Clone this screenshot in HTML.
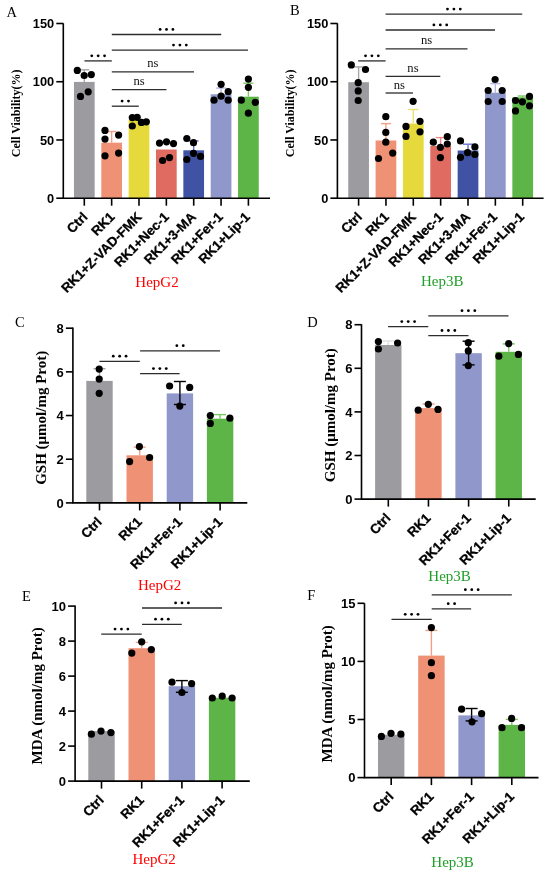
<!DOCTYPE html>
<html><head><meta charset="utf-8"><style>
html,body{margin:0;padding:0;background:#fff;}
svg{display:block;will-change:transform;}
</style></head><body>
<svg width="550" height="878" viewBox="0 0 550 878">
<rect width="550" height="878" fill="#fff"/>
<rect x="73.95" y="81.90" width="20.70" height="116.30" fill="#9c9ba0"/>
<rect x="101.30" y="142.70" width="20.70" height="55.50" fill="#ef9174"/>
<rect x="128.65" y="119.50" width="20.70" height="78.70" fill="#e6d93c"/>
<rect x="156.00" y="149.50" width="20.70" height="48.70" fill="#e06b60"/>
<rect x="183.35" y="150.30" width="20.70" height="47.90" fill="#3f52a4"/>
<rect x="210.70" y="94.30" width="20.70" height="103.90" fill="#8f97cb"/>
<rect x="238.05" y="96.70" width="20.70" height="101.50" fill="#5db447"/>
<line x1="84.30" y1="69.80" x2="84.30" y2="81.90" stroke="#a6a6aa" stroke-width="1.4"/>
<line x1="79.30" y1="69.80" x2="89.30" y2="69.80" stroke="#a6a6aa" stroke-width="1.4"/>
<line x1="111.65" y1="131.50" x2="111.65" y2="142.70" stroke="#f4a085" stroke-width="1.4"/>
<line x1="106.65" y1="131.50" x2="116.65" y2="131.50" stroke="#f4a085" stroke-width="1.4"/>
<line x1="193.70" y1="140.90" x2="193.70" y2="150.30" stroke="#6a74d0" stroke-width="1.4"/>
<line x1="188.70" y1="140.90" x2="198.70" y2="140.90" stroke="#6a74d0" stroke-width="1.4"/>
<line x1="221.05" y1="88.10" x2="221.05" y2="94.30" stroke="#b4b9e6" stroke-width="1.4"/>
<line x1="216.05" y1="88.10" x2="226.05" y2="88.10" stroke="#b4b9e6" stroke-width="1.4"/>
<line x1="248.40" y1="83.20" x2="248.40" y2="96.70" stroke="#78c860" stroke-width="1.4"/>
<line x1="243.40" y1="83.20" x2="253.40" y2="83.20" stroke="#78c860" stroke-width="1.4"/>
<circle cx="77.30" cy="70.40" r="3.6" fill="#000"/>
<circle cx="84.20" cy="75.50" r="3.6" fill="#000"/>
<circle cx="91.30" cy="74.60" r="3.6" fill="#000"/>
<circle cx="88.20" cy="91.80" r="3.6" fill="#000"/>
<circle cx="80.50" cy="96.40" r="3.6" fill="#000"/>
<circle cx="105.00" cy="130.40" r="3.6" fill="#000"/>
<circle cx="105.00" cy="139.10" r="3.6" fill="#000"/>
<circle cx="118.60" cy="135.10" r="3.6" fill="#000"/>
<circle cx="118.60" cy="153.10" r="3.6" fill="#000"/>
<circle cx="105.00" cy="155.80" r="3.6" fill="#000"/>
<circle cx="132.30" cy="117.60" r="3.6" fill="#000"/>
<circle cx="137.20" cy="117.30" r="3.6" fill="#000"/>
<circle cx="141.40" cy="122.40" r="3.6" fill="#000"/>
<circle cx="146.30" cy="121.80" r="3.6" fill="#000"/>
<circle cx="132.30" cy="126.00" r="3.6" fill="#000"/>
<circle cx="159.50" cy="143.10" r="3.6" fill="#000"/>
<circle cx="166.50" cy="141.80" r="3.6" fill="#000"/>
<circle cx="173.50" cy="143.60" r="3.6" fill="#000"/>
<circle cx="169.50" cy="157.60" r="3.6" fill="#000"/>
<circle cx="162.60" cy="160.50" r="3.6" fill="#000"/>
<circle cx="186.80" cy="138.50" r="3.6" fill="#000"/>
<circle cx="193.50" cy="142.70" r="3.6" fill="#000"/>
<circle cx="193.50" cy="153.30" r="3.6" fill="#000"/>
<circle cx="200.50" cy="156.40" r="3.6" fill="#000"/>
<circle cx="186.80" cy="159.50" r="3.6" fill="#000"/>
<circle cx="221.10" cy="84.30" r="3.6" fill="#000"/>
<circle cx="228.20" cy="91.70" r="3.6" fill="#000"/>
<circle cx="221.10" cy="96.20" r="3.6" fill="#000"/>
<circle cx="214.00" cy="100.20" r="3.6" fill="#000"/>
<circle cx="228.20" cy="100.20" r="3.6" fill="#000"/>
<circle cx="248.40" cy="79.10" r="3.6" fill="#000"/>
<circle cx="248.40" cy="87.30" r="3.6" fill="#000"/>
<circle cx="241.30" cy="100.20" r="3.6" fill="#000"/>
<circle cx="255.30" cy="102.30" r="3.6" fill="#000"/>
<circle cx="248.40" cy="113.20" r="3.6" fill="#000"/>
<path d="M63.30,23.20 V198.20 H270.00" fill="none" stroke="#000" stroke-width="1.6"/>
<line x1="56.30" y1="198.20" x2="63.30" y2="198.20" stroke="#000" stroke-width="1.6"/>
<text x="54.20" y="202.81" text-anchor="end" font-size="12.8" font-weight="bold" font-family="'Liberation Sans', sans-serif">0</text>
<line x1="56.30" y1="139.96" x2="63.30" y2="139.96" stroke="#000" stroke-width="1.6"/>
<text x="54.20" y="144.57" text-anchor="end" font-size="12.8" font-weight="bold" font-family="'Liberation Sans', sans-serif">50</text>
<line x1="56.30" y1="81.73" x2="63.30" y2="81.73" stroke="#000" stroke-width="1.6"/>
<text x="54.20" y="86.34" text-anchor="end" font-size="12.8" font-weight="bold" font-family="'Liberation Sans', sans-serif">100</text>
<line x1="56.30" y1="23.49" x2="63.30" y2="23.49" stroke="#000" stroke-width="1.6"/>
<text x="54.20" y="28.10" text-anchor="end" font-size="12.8" font-weight="bold" font-family="'Liberation Sans', sans-serif">150</text>
<line x1="84.30" y1="198.20" x2="84.30" y2="205.70" stroke="#000" stroke-width="1.6"/>
<text transform="translate(85.10,214.40) rotate(-45)" x="0" y="4.79" text-anchor="end" font-size="13.3" font-weight="bold" stroke="#000" stroke-width="0.3" font-family="'Liberation Sans', sans-serif">Ctrl</text>
<line x1="111.65" y1="198.20" x2="111.65" y2="205.70" stroke="#000" stroke-width="1.6"/>
<text transform="translate(112.15,214.40) rotate(-45)" x="0" y="4.79" text-anchor="end" font-size="13.3" font-weight="bold" stroke="#000" stroke-width="0.3" font-family="'Liberation Sans', sans-serif">RK1</text>
<line x1="139.00" y1="198.20" x2="139.00" y2="205.70" stroke="#000" stroke-width="1.6"/>
<text transform="translate(139.20,214.40) rotate(-45)" x="0" y="4.79" text-anchor="end" font-size="13.3" font-weight="bold" stroke="#000" stroke-width="0.3" font-family="'Liberation Sans', sans-serif">RK1+Z-VAD-FMK</text>
<line x1="166.35" y1="198.20" x2="166.35" y2="205.70" stroke="#000" stroke-width="1.6"/>
<text transform="translate(166.25,214.40) rotate(-45)" x="0" y="4.79" text-anchor="end" font-size="13.3" font-weight="bold" stroke="#000" stroke-width="0.3" font-family="'Liberation Sans', sans-serif">RK1+Nec-1</text>
<line x1="193.70" y1="198.20" x2="193.70" y2="205.70" stroke="#000" stroke-width="1.6"/>
<text transform="translate(193.30,214.40) rotate(-45)" x="0" y="4.79" text-anchor="end" font-size="13.3" font-weight="bold" stroke="#000" stroke-width="0.3" font-family="'Liberation Sans', sans-serif">RK1+3-MA</text>
<line x1="221.05" y1="198.20" x2="221.05" y2="205.70" stroke="#000" stroke-width="1.6"/>
<text transform="translate(220.35,214.40) rotate(-45)" x="0" y="4.79" text-anchor="end" font-size="13.3" font-weight="bold" stroke="#000" stroke-width="0.3" font-family="'Liberation Sans', sans-serif">RK1+Fer-1</text>
<line x1="248.40" y1="198.20" x2="248.40" y2="205.70" stroke="#000" stroke-width="1.6"/>
<text transform="translate(247.40,214.40) rotate(-45)" x="0" y="4.79" text-anchor="end" font-size="13.3" font-weight="bold" stroke="#000" stroke-width="0.3" font-family="'Liberation Sans', sans-serif">RK1+Lip-1</text>
<text transform="translate(19.80,113.30) rotate(-90)" text-anchor="middle" font-size="12" font-weight="bold" font-family="'Liberation Serif', serif">Cell Viability(%)</text>
<line x1="84.50" y1="60.90" x2="111.80" y2="60.90" stroke="#2c2c2c" stroke-width="1.3"/>
<circle cx="91.75" cy="55.80" r="1.4" fill="#000"/>
<circle cx="98.15" cy="55.80" r="1.4" fill="#000"/>
<circle cx="104.55" cy="55.80" r="1.4" fill="#000"/>
<line x1="111.80" y1="34.50" x2="221.20" y2="34.50" stroke="#2c2c2c" stroke-width="1.3"/>
<circle cx="160.10" cy="29.40" r="1.4" fill="#000"/>
<circle cx="166.50" cy="29.40" r="1.4" fill="#000"/>
<circle cx="172.90" cy="29.40" r="1.4" fill="#000"/>
<line x1="111.80" y1="50.20" x2="248.00" y2="50.20" stroke="#2c2c2c" stroke-width="1.3"/>
<circle cx="173.50" cy="45.10" r="1.4" fill="#000"/>
<circle cx="179.90" cy="45.10" r="1.4" fill="#000"/>
<circle cx="186.30" cy="45.10" r="1.4" fill="#000"/>
<line x1="111.80" y1="71.80" x2="194.00" y2="71.80" stroke="#2c2c2c" stroke-width="1.3"/>
<text x="152.90" y="67.30" text-anchor="middle" font-size="12.6" font-family="'Liberation Serif', serif" fill="#111">ns</text>
<line x1="111.80" y1="89.60" x2="166.40" y2="89.60" stroke="#2c2c2c" stroke-width="1.3"/>
<text x="139.10" y="85.10" text-anchor="middle" font-size="12.6" font-family="'Liberation Serif', serif" fill="#111">ns</text>
<line x1="111.80" y1="106.20" x2="138.80" y2="106.20" stroke="#2c2c2c" stroke-width="1.3"/>
<circle cx="122.10" cy="101.10" r="1.4" fill="#000"/>
<circle cx="128.50" cy="101.10" r="1.4" fill="#000"/>
<text x="6.60" y="17.00" font-size="14.5" font-family="'Liberation Serif', serif">A</text>
<text x="157.00" y="286.60" text-anchor="middle" font-size="15" font-family="'Liberation Serif', serif" fill="#ff0000">HepG2</text>
<rect x="348.25" y="82.20" width="20.70" height="116.00" fill="#9c9ba0"/>
<rect x="375.60" y="140.50" width="20.70" height="57.70" fill="#ef9174"/>
<rect x="402.95" y="123.60" width="20.70" height="74.60" fill="#e6d93c"/>
<rect x="430.30" y="146.00" width="20.70" height="52.20" fill="#e06b60"/>
<rect x="457.65" y="150.50" width="20.70" height="47.70" fill="#3f52a4"/>
<rect x="485.00" y="92.70" width="20.70" height="105.50" fill="#8f97cb"/>
<rect x="512.35" y="97.30" width="20.70" height="100.90" fill="#5db447"/>
<line x1="358.60" y1="66.90" x2="358.60" y2="82.20" stroke="#a6a6aa" stroke-width="1.4"/>
<line x1="353.60" y1="66.90" x2="363.60" y2="66.90" stroke="#a6a6aa" stroke-width="1.4"/>
<line x1="385.95" y1="123.60" x2="385.95" y2="140.50" stroke="#f4a085" stroke-width="1.4"/>
<line x1="380.95" y1="123.60" x2="390.95" y2="123.60" stroke="#f4a085" stroke-width="1.4"/>
<line x1="413.30" y1="109.50" x2="413.30" y2="123.60" stroke="#ece070" stroke-width="1.4"/>
<line x1="408.30" y1="109.50" x2="418.30" y2="109.50" stroke="#ece070" stroke-width="1.4"/>
<line x1="440.65" y1="137.60" x2="440.65" y2="146.00" stroke="#ea8a80" stroke-width="1.4"/>
<line x1="435.65" y1="137.60" x2="445.65" y2="137.60" stroke="#ea8a80" stroke-width="1.4"/>
<line x1="468.00" y1="144.20" x2="468.00" y2="150.50" stroke="#6a74d0" stroke-width="1.4"/>
<line x1="463.00" y1="144.20" x2="473.00" y2="144.20" stroke="#6a74d0" stroke-width="1.4"/>
<line x1="495.35" y1="83.60" x2="495.35" y2="92.70" stroke="#b4b9e6" stroke-width="1.4"/>
<line x1="490.35" y1="83.60" x2="500.35" y2="83.60" stroke="#b4b9e6" stroke-width="1.4"/>
<line x1="522.70" y1="96.00" x2="522.70" y2="97.30" stroke="#78c860" stroke-width="1.4"/>
<line x1="517.70" y1="96.00" x2="527.70" y2="96.00" stroke="#78c860" stroke-width="1.4"/>
<circle cx="351.30" cy="64.90" r="3.6" fill="#000"/>
<circle cx="365.50" cy="69.50" r="3.6" fill="#000"/>
<circle cx="358.20" cy="82.70" r="3.6" fill="#000"/>
<circle cx="358.20" cy="90.90" r="3.6" fill="#000"/>
<circle cx="358.20" cy="100.50" r="3.6" fill="#000"/>
<circle cx="385.80" cy="116.70" r="3.6" fill="#000"/>
<circle cx="385.80" cy="132.40" r="3.6" fill="#000"/>
<circle cx="385.80" cy="142.20" r="3.6" fill="#000"/>
<circle cx="392.70" cy="153.10" r="3.6" fill="#000"/>
<circle cx="378.50" cy="158.50" r="3.6" fill="#000"/>
<circle cx="413.10" cy="101.30" r="3.6" fill="#000"/>
<circle cx="420.00" cy="121.30" r="3.6" fill="#000"/>
<circle cx="406.00" cy="126.40" r="3.6" fill="#000"/>
<circle cx="420.00" cy="131.80" r="3.6" fill="#000"/>
<circle cx="406.00" cy="136.40" r="3.6" fill="#000"/>
<circle cx="433.30" cy="142.20" r="3.6" fill="#000"/>
<circle cx="447.30" cy="136.70" r="3.6" fill="#000"/>
<circle cx="447.30" cy="144.00" r="3.6" fill="#000"/>
<circle cx="440.40" cy="147.30" r="3.6" fill="#000"/>
<circle cx="440.40" cy="157.60" r="3.6" fill="#000"/>
<circle cx="460.50" cy="140.90" r="3.6" fill="#000"/>
<circle cx="474.90" cy="146.90" r="3.6" fill="#000"/>
<circle cx="467.60" cy="152.70" r="3.6" fill="#000"/>
<circle cx="474.90" cy="154.50" r="3.6" fill="#000"/>
<circle cx="460.50" cy="157.30" r="3.6" fill="#000"/>
<circle cx="495.10" cy="79.50" r="3.6" fill="#000"/>
<circle cx="488.20" cy="90.50" r="3.6" fill="#000"/>
<circle cx="502.20" cy="90.50" r="3.6" fill="#000"/>
<circle cx="488.20" cy="101.50" r="3.6" fill="#000"/>
<circle cx="502.20" cy="101.50" r="3.6" fill="#000"/>
<circle cx="515.50" cy="100.50" r="3.6" fill="#000"/>
<circle cx="522.40" cy="101.80" r="3.6" fill="#000"/>
<circle cx="529.50" cy="96.40" r="3.6" fill="#000"/>
<circle cx="529.50" cy="105.80" r="3.6" fill="#000"/>
<circle cx="515.50" cy="110.90" r="3.6" fill="#000"/>
<path d="M337.40,23.20 V198.20 H543.60" fill="none" stroke="#000" stroke-width="1.6"/>
<line x1="330.40" y1="198.20" x2="337.40" y2="198.20" stroke="#000" stroke-width="1.6"/>
<text x="328.30" y="202.81" text-anchor="end" font-size="12.8" font-weight="bold" font-family="'Liberation Sans', sans-serif">0</text>
<line x1="330.40" y1="139.96" x2="337.40" y2="139.96" stroke="#000" stroke-width="1.6"/>
<text x="328.30" y="144.57" text-anchor="end" font-size="12.8" font-weight="bold" font-family="'Liberation Sans', sans-serif">50</text>
<line x1="330.40" y1="81.73" x2="337.40" y2="81.73" stroke="#000" stroke-width="1.6"/>
<text x="328.30" y="86.34" text-anchor="end" font-size="12.8" font-weight="bold" font-family="'Liberation Sans', sans-serif">100</text>
<line x1="330.40" y1="23.49" x2="337.40" y2="23.49" stroke="#000" stroke-width="1.6"/>
<text x="328.30" y="28.10" text-anchor="end" font-size="12.8" font-weight="bold" font-family="'Liberation Sans', sans-serif">150</text>
<line x1="358.60" y1="198.20" x2="358.60" y2="205.70" stroke="#000" stroke-width="1.6"/>
<text transform="translate(359.40,214.40) rotate(-45)" x="0" y="4.79" text-anchor="end" font-size="13.3" font-weight="bold" stroke="#000" stroke-width="0.3" font-family="'Liberation Sans', sans-serif">Ctrl</text>
<line x1="385.95" y1="198.20" x2="385.95" y2="205.70" stroke="#000" stroke-width="1.6"/>
<text transform="translate(386.45,214.40) rotate(-45)" x="0" y="4.79" text-anchor="end" font-size="13.3" font-weight="bold" stroke="#000" stroke-width="0.3" font-family="'Liberation Sans', sans-serif">RK1</text>
<line x1="413.30" y1="198.20" x2="413.30" y2="205.70" stroke="#000" stroke-width="1.6"/>
<text transform="translate(413.50,214.40) rotate(-45)" x="0" y="4.79" text-anchor="end" font-size="13.3" font-weight="bold" stroke="#000" stroke-width="0.3" font-family="'Liberation Sans', sans-serif">RK1+Z-VAD-FMK</text>
<line x1="440.65" y1="198.20" x2="440.65" y2="205.70" stroke="#000" stroke-width="1.6"/>
<text transform="translate(440.55,214.40) rotate(-45)" x="0" y="4.79" text-anchor="end" font-size="13.3" font-weight="bold" stroke="#000" stroke-width="0.3" font-family="'Liberation Sans', sans-serif">RK1+Nec-1</text>
<line x1="468.00" y1="198.20" x2="468.00" y2="205.70" stroke="#000" stroke-width="1.6"/>
<text transform="translate(467.60,214.40) rotate(-45)" x="0" y="4.79" text-anchor="end" font-size="13.3" font-weight="bold" stroke="#000" stroke-width="0.3" font-family="'Liberation Sans', sans-serif">RK1+3-MA</text>
<line x1="495.35" y1="198.20" x2="495.35" y2="205.70" stroke="#000" stroke-width="1.6"/>
<text transform="translate(494.65,214.40) rotate(-45)" x="0" y="4.79" text-anchor="end" font-size="13.3" font-weight="bold" stroke="#000" stroke-width="0.3" font-family="'Liberation Sans', sans-serif">RK1+Fer-1</text>
<line x1="522.70" y1="198.20" x2="522.70" y2="205.70" stroke="#000" stroke-width="1.6"/>
<text transform="translate(521.70,214.40) rotate(-45)" x="0" y="4.79" text-anchor="end" font-size="13.3" font-weight="bold" stroke="#000" stroke-width="0.3" font-family="'Liberation Sans', sans-serif">RK1+Lip-1</text>
<text transform="translate(294.10,113.30) rotate(-90)" text-anchor="middle" font-size="12" font-weight="bold" font-family="'Liberation Serif', serif">Cell Viability(%)</text>
<line x1="358.20" y1="60.90" x2="385.60" y2="60.90" stroke="#2c2c2c" stroke-width="1.3"/>
<circle cx="365.50" cy="55.80" r="1.4" fill="#000"/>
<circle cx="371.90" cy="55.80" r="1.4" fill="#000"/>
<circle cx="378.30" cy="55.80" r="1.4" fill="#000"/>
<line x1="385.60" y1="14.20" x2="522.20" y2="14.20" stroke="#2c2c2c" stroke-width="1.3"/>
<circle cx="447.50" cy="9.10" r="1.4" fill="#000"/>
<circle cx="453.90" cy="9.10" r="1.4" fill="#000"/>
<circle cx="460.30" cy="9.10" r="1.4" fill="#000"/>
<line x1="385.60" y1="30.00" x2="495.00" y2="30.00" stroke="#2c2c2c" stroke-width="1.3"/>
<circle cx="433.90" cy="24.90" r="1.4" fill="#000"/>
<circle cx="440.30" cy="24.90" r="1.4" fill="#000"/>
<circle cx="446.70" cy="24.90" r="1.4" fill="#000"/>
<line x1="385.60" y1="48.90" x2="467.50" y2="48.90" stroke="#2c2c2c" stroke-width="1.3"/>
<text x="426.55" y="44.40" text-anchor="middle" font-size="12.6" font-family="'Liberation Serif', serif" fill="#111">ns</text>
<line x1="385.60" y1="76.30" x2="440.30" y2="76.30" stroke="#2c2c2c" stroke-width="1.3"/>
<text x="412.95" y="71.80" text-anchor="middle" font-size="12.6" font-family="'Liberation Serif', serif" fill="#111">ns</text>
<line x1="385.60" y1="93.00" x2="413.00" y2="93.00" stroke="#2c2c2c" stroke-width="1.3"/>
<text x="399.30" y="88.50" text-anchor="middle" font-size="12.6" font-family="'Liberation Serif', serif" fill="#111">ns</text>
<text x="290.10" y="15.20" font-size="14.5" font-family="'Liberation Serif', serif">B</text>
<text x="442.20" y="286.20" text-anchor="middle" font-size="15" font-family="'Liberation Serif', serif" fill="#1f9e28">Hep3B</text>
<rect x="86.30" y="380.90" width="26.40" height="122.00" fill="#9c9ba0"/>
<rect x="126.50" y="455.30" width="26.40" height="47.60" fill="#ef9174"/>
<rect x="166.70" y="393.40" width="26.40" height="109.50" fill="#8f97cb"/>
<rect x="206.90" y="418.70" width="26.40" height="84.20" fill="#5db447"/>
<line x1="99.50" y1="368.70" x2="99.50" y2="380.90" stroke="#a6a6aa" stroke-width="1.4"/>
<line x1="93.50" y1="368.70" x2="105.50" y2="368.70" stroke="#a6a6aa" stroke-width="1.4"/>
<line x1="139.70" y1="447.20" x2="139.70" y2="455.30" stroke="#f4a085" stroke-width="1.4"/>
<line x1="133.70" y1="447.20" x2="145.70" y2="447.20" stroke="#f4a085" stroke-width="1.4"/>
<line x1="179.90" y1="381.50" x2="179.90" y2="393.40" stroke="#000" stroke-width="1.4"/>
<line x1="173.90" y1="381.50" x2="185.90" y2="381.50" stroke="#000" stroke-width="1.4"/>
<line x1="179.90" y1="393.40" x2="179.90" y2="404.50" stroke="#000" stroke-width="1.4"/>
<line x1="173.90" y1="404.50" x2="185.90" y2="404.50" stroke="#000" stroke-width="1.4"/>
<line x1="220.10" y1="414.60" x2="220.10" y2="418.70" stroke="#78c860" stroke-width="1.4"/>
<line x1="214.10" y1="414.60" x2="226.10" y2="414.60" stroke="#78c860" stroke-width="1.4"/>
<circle cx="99.20" cy="369.10" r="3.6" fill="#000"/>
<circle cx="99.20" cy="379.10" r="3.6" fill="#000"/>
<circle cx="99.20" cy="393.30" r="3.6" fill="#000"/>
<circle cx="139.40" cy="446.60" r="3.6" fill="#000"/>
<circle cx="129.60" cy="461.60" r="3.6" fill="#000"/>
<circle cx="149.60" cy="457.50" r="3.6" fill="#000"/>
<circle cx="169.60" cy="386.00" r="3.6" fill="#000"/>
<circle cx="189.70" cy="387.40" r="3.6" fill="#000"/>
<circle cx="179.80" cy="406.10" r="3.6" fill="#000"/>
<circle cx="210.30" cy="415.60" r="3.6" fill="#000"/>
<circle cx="210.30" cy="423.40" r="3.6" fill="#000"/>
<circle cx="229.90" cy="418.20" r="3.6" fill="#000"/>
<path d="M72.90,327.60 V502.90 H247.30" fill="none" stroke="#000" stroke-width="1.6"/>
<line x1="65.90" y1="502.90" x2="72.90" y2="502.90" stroke="#000" stroke-width="1.6"/>
<text x="63.80" y="507.58" text-anchor="end" font-size="13" font-weight="bold" font-family="'Liberation Sans', sans-serif">0</text>
<line x1="65.90" y1="459.22" x2="72.90" y2="459.22" stroke="#000" stroke-width="1.6"/>
<text x="63.80" y="463.90" text-anchor="end" font-size="13" font-weight="bold" font-family="'Liberation Sans', sans-serif">2</text>
<line x1="65.90" y1="415.54" x2="72.90" y2="415.54" stroke="#000" stroke-width="1.6"/>
<text x="63.80" y="420.22" text-anchor="end" font-size="13" font-weight="bold" font-family="'Liberation Sans', sans-serif">4</text>
<line x1="65.90" y1="371.86" x2="72.90" y2="371.86" stroke="#000" stroke-width="1.6"/>
<text x="63.80" y="376.54" text-anchor="end" font-size="13" font-weight="bold" font-family="'Liberation Sans', sans-serif">6</text>
<line x1="65.90" y1="328.18" x2="72.90" y2="328.18" stroke="#000" stroke-width="1.6"/>
<text x="63.80" y="332.86" text-anchor="end" font-size="13" font-weight="bold" font-family="'Liberation Sans', sans-serif">8</text>
<line x1="99.50" y1="502.90" x2="99.50" y2="510.40" stroke="#000" stroke-width="1.6"/>
<text transform="translate(99.20,519.40) rotate(-45)" x="0" y="4.79" text-anchor="end" font-size="13.3" font-weight="bold" stroke="#000" stroke-width="0.3" font-family="'Liberation Sans', sans-serif">Ctrl</text>
<line x1="139.70" y1="502.90" x2="139.70" y2="510.40" stroke="#000" stroke-width="1.6"/>
<text transform="translate(139.40,519.40) rotate(-45)" x="0" y="4.79" text-anchor="end" font-size="13.3" font-weight="bold" stroke="#000" stroke-width="0.3" font-family="'Liberation Sans', sans-serif">RK1</text>
<line x1="179.90" y1="502.90" x2="179.90" y2="510.40" stroke="#000" stroke-width="1.6"/>
<text transform="translate(179.60,519.40) rotate(-45)" x="0" y="4.79" text-anchor="end" font-size="13.3" font-weight="bold" stroke="#000" stroke-width="0.3" font-family="'Liberation Sans', sans-serif">RK1+Fer-1</text>
<line x1="220.10" y1="502.90" x2="220.10" y2="510.40" stroke="#000" stroke-width="1.6"/>
<text transform="translate(219.80,519.40) rotate(-45)" x="0" y="4.79" text-anchor="end" font-size="13.3" font-weight="bold" stroke="#000" stroke-width="0.3" font-family="'Liberation Sans', sans-serif">RK1+Lip-1</text>
<text transform="translate(46.10,417.80) rotate(-90)" text-anchor="middle" font-size="15" font-weight="bold" font-family="'Liberation Serif', serif">GSH (μmol/mg Prot)</text>
<line x1="99.50" y1="361.30" x2="139.80" y2="361.30" stroke="#2c2c2c" stroke-width="1.3"/>
<circle cx="113.25" cy="356.20" r="1.4" fill="#000"/>
<circle cx="119.65" cy="356.20" r="1.4" fill="#000"/>
<circle cx="126.05" cy="356.20" r="1.4" fill="#000"/>
<line x1="140.10" y1="350.80" x2="220.00" y2="350.80" stroke="#2c2c2c" stroke-width="1.3"/>
<circle cx="176.85" cy="345.70" r="1.4" fill="#000"/>
<circle cx="183.25" cy="345.70" r="1.4" fill="#000"/>
<line x1="140.10" y1="373.70" x2="179.60" y2="373.70" stroke="#2c2c2c" stroke-width="1.3"/>
<circle cx="153.45" cy="368.60" r="1.4" fill="#000"/>
<circle cx="159.85" cy="368.60" r="1.4" fill="#000"/>
<circle cx="166.25" cy="368.60" r="1.4" fill="#000"/>
<text x="14.90" y="327.00" font-size="14.5" font-family="'Liberation Serif', serif">C</text>
<text x="159.60" y="590.30" text-anchor="middle" font-size="15" font-family="'Liberation Serif', serif" fill="#ff0000">HepG2</text>
<rect x="375.10" y="345.00" width="26.40" height="154.10" fill="#9c9ba0"/>
<rect x="415.25" y="408.10" width="26.40" height="91.00" fill="#ef9174"/>
<rect x="455.40" y="353.20" width="26.40" height="145.90" fill="#8f97cb"/>
<rect x="495.55" y="351.80" width="26.40" height="147.30" fill="#5db447"/>
<line x1="388.30" y1="341.00" x2="388.30" y2="345.00" stroke="#e0e0e0" stroke-width="1.4"/>
<line x1="382.30" y1="341.00" x2="394.30" y2="341.00" stroke="#e0e0e0" stroke-width="1.4"/>
<line x1="428.45" y1="404.00" x2="428.45" y2="408.10" stroke="#f4a085" stroke-width="1.4"/>
<line x1="422.45" y1="404.00" x2="434.45" y2="404.00" stroke="#f4a085" stroke-width="1.4"/>
<line x1="468.60" y1="341.20" x2="468.60" y2="353.20" stroke="#000" stroke-width="1.4"/>
<line x1="462.60" y1="341.20" x2="474.60" y2="341.20" stroke="#000" stroke-width="1.4"/>
<line x1="468.60" y1="353.20" x2="468.60" y2="364.90" stroke="#000" stroke-width="1.4"/>
<line x1="462.60" y1="364.90" x2="474.60" y2="364.90" stroke="#000" stroke-width="1.4"/>
<line x1="508.75" y1="343.90" x2="508.75" y2="351.80" stroke="#78c860" stroke-width="1.4"/>
<line x1="502.75" y1="343.90" x2="514.75" y2="343.90" stroke="#78c860" stroke-width="1.4"/>
<circle cx="378.40" cy="341.60" r="3.6" fill="#000"/>
<circle cx="378.40" cy="349.00" r="3.6" fill="#000"/>
<circle cx="397.60" cy="343.00" r="3.6" fill="#000"/>
<circle cx="418.20" cy="410.20" r="3.6" fill="#000"/>
<circle cx="428.30" cy="404.30" r="3.6" fill="#000"/>
<circle cx="438.00" cy="409.40" r="3.6" fill="#000"/>
<circle cx="468.30" cy="342.70" r="3.6" fill="#000"/>
<circle cx="468.30" cy="350.90" r="3.6" fill="#000"/>
<circle cx="468.30" cy="365.60" r="3.6" fill="#000"/>
<circle cx="508.70" cy="343.60" r="3.6" fill="#000"/>
<circle cx="498.80" cy="356.20" r="3.6" fill="#000"/>
<circle cx="518.40" cy="354.40" r="3.6" fill="#000"/>
<path d="M361.50,324.20 V499.10 H535.70" fill="none" stroke="#000" stroke-width="1.6"/>
<line x1="354.50" y1="499.10" x2="361.50" y2="499.10" stroke="#000" stroke-width="1.6"/>
<text x="352.40" y="503.78" text-anchor="end" font-size="13" font-weight="bold" font-family="'Liberation Sans', sans-serif">0</text>
<line x1="354.50" y1="455.50" x2="361.50" y2="455.50" stroke="#000" stroke-width="1.6"/>
<text x="352.40" y="460.18" text-anchor="end" font-size="13" font-weight="bold" font-family="'Liberation Sans', sans-serif">2</text>
<line x1="354.50" y1="411.90" x2="361.50" y2="411.90" stroke="#000" stroke-width="1.6"/>
<text x="352.40" y="416.58" text-anchor="end" font-size="13" font-weight="bold" font-family="'Liberation Sans', sans-serif">4</text>
<line x1="354.50" y1="368.30" x2="361.50" y2="368.30" stroke="#000" stroke-width="1.6"/>
<text x="352.40" y="372.98" text-anchor="end" font-size="13" font-weight="bold" font-family="'Liberation Sans', sans-serif">6</text>
<line x1="354.50" y1="324.70" x2="361.50" y2="324.70" stroke="#000" stroke-width="1.6"/>
<text x="352.40" y="329.38" text-anchor="end" font-size="13" font-weight="bold" font-family="'Liberation Sans', sans-serif">8</text>
<line x1="388.30" y1="499.10" x2="388.30" y2="506.60" stroke="#000" stroke-width="1.6"/>
<text transform="translate(388.00,515.60) rotate(-45)" x="0" y="4.79" text-anchor="end" font-size="13.3" font-weight="bold" stroke="#000" stroke-width="0.3" font-family="'Liberation Sans', sans-serif">Ctrl</text>
<line x1="428.45" y1="499.10" x2="428.45" y2="506.60" stroke="#000" stroke-width="1.6"/>
<text transform="translate(428.15,515.60) rotate(-45)" x="0" y="4.79" text-anchor="end" font-size="13.3" font-weight="bold" stroke="#000" stroke-width="0.3" font-family="'Liberation Sans', sans-serif">RK1</text>
<line x1="468.60" y1="499.10" x2="468.60" y2="506.60" stroke="#000" stroke-width="1.6"/>
<text transform="translate(468.30,515.60) rotate(-45)" x="0" y="4.79" text-anchor="end" font-size="13.3" font-weight="bold" stroke="#000" stroke-width="0.3" font-family="'Liberation Sans', sans-serif">RK1+Fer-1</text>
<line x1="508.75" y1="499.10" x2="508.75" y2="506.60" stroke="#000" stroke-width="1.6"/>
<text transform="translate(508.45,515.60) rotate(-45)" x="0" y="4.79" text-anchor="end" font-size="13.3" font-weight="bold" stroke="#000" stroke-width="0.3" font-family="'Liberation Sans', sans-serif">RK1+Lip-1</text>
<text transform="translate(335.00,415.20) rotate(-90)" text-anchor="middle" font-size="15" font-weight="bold" font-family="'Liberation Serif', serif">GSH (μmol/mg Prot)</text>
<line x1="388.10" y1="326.70" x2="428.30" y2="326.70" stroke="#2c2c2c" stroke-width="1.3"/>
<circle cx="401.80" cy="321.60" r="1.4" fill="#000"/>
<circle cx="408.20" cy="321.60" r="1.4" fill="#000"/>
<circle cx="414.60" cy="321.60" r="1.4" fill="#000"/>
<line x1="428.30" y1="315.80" x2="508.50" y2="315.80" stroke="#2c2c2c" stroke-width="1.3"/>
<circle cx="462.00" cy="310.70" r="1.4" fill="#000"/>
<circle cx="468.40" cy="310.70" r="1.4" fill="#000"/>
<circle cx="474.80" cy="310.70" r="1.4" fill="#000"/>
<line x1="428.30" y1="335.60" x2="468.50" y2="335.60" stroke="#2c2c2c" stroke-width="1.3"/>
<circle cx="442.00" cy="330.50" r="1.4" fill="#000"/>
<circle cx="448.40" cy="330.50" r="1.4" fill="#000"/>
<circle cx="454.80" cy="330.50" r="1.4" fill="#000"/>
<text x="307.30" y="327.30" font-size="14.5" font-family="'Liberation Serif', serif">D</text>
<text x="449.60" y="580.60" text-anchor="middle" font-size="15" font-family="'Liberation Serif', serif" fill="#1f9e28">Hep3B</text>
<rect x="88.30" y="731.10" width="26.40" height="50.00" fill="#9c9ba0"/>
<rect x="128.50" y="648.20" width="26.40" height="132.90" fill="#ef9174"/>
<rect x="168.70" y="686.20" width="26.40" height="94.90" fill="#8f97cb"/>
<rect x="208.90" y="697.70" width="26.40" height="83.40" fill="#5db447"/>
<line x1="141.70" y1="642.40" x2="141.70" y2="648.20" stroke="#f4a085" stroke-width="1.4"/>
<line x1="135.70" y1="642.40" x2="147.70" y2="642.40" stroke="#f4a085" stroke-width="1.4"/>
<line x1="181.90" y1="680.60" x2="181.90" y2="686.20" stroke="#000" stroke-width="1.4"/>
<line x1="175.90" y1="680.60" x2="187.90" y2="680.60" stroke="#000" stroke-width="1.4"/>
<line x1="181.90" y1="686.20" x2="181.90" y2="692.30" stroke="#000" stroke-width="1.4"/>
<line x1="175.90" y1="692.30" x2="187.90" y2="692.30" stroke="#000" stroke-width="1.4"/>
<circle cx="91.40" cy="734.20" r="3.6" fill="#000"/>
<circle cx="101.00" cy="731.10" r="3.6" fill="#000"/>
<circle cx="110.90" cy="732.60" r="3.6" fill="#000"/>
<circle cx="141.70" cy="641.80" r="3.6" fill="#000"/>
<circle cx="131.80" cy="653.10" r="3.6" fill="#000"/>
<circle cx="151.30" cy="649.60" r="3.6" fill="#000"/>
<circle cx="172.00" cy="682.20" r="3.6" fill="#000"/>
<circle cx="191.60" cy="683.70" r="3.6" fill="#000"/>
<circle cx="181.90" cy="692.50" r="3.6" fill="#000"/>
<circle cx="212.30" cy="698.00" r="3.6" fill="#000"/>
<circle cx="222.20" cy="696.20" r="3.6" fill="#000"/>
<circle cx="232.10" cy="698.00" r="3.6" fill="#000"/>
<path d="M75.10,605.60 V781.10 H249.80" fill="none" stroke="#000" stroke-width="1.6"/>
<line x1="68.10" y1="781.10" x2="75.10" y2="781.10" stroke="#000" stroke-width="1.6"/>
<text x="66.00" y="785.78" text-anchor="end" font-size="13" font-weight="bold" font-family="'Liberation Sans', sans-serif">0</text>
<line x1="68.10" y1="746.10" x2="75.10" y2="746.10" stroke="#000" stroke-width="1.6"/>
<text x="66.00" y="750.78" text-anchor="end" font-size="13" font-weight="bold" font-family="'Liberation Sans', sans-serif">2</text>
<line x1="68.10" y1="711.10" x2="75.10" y2="711.10" stroke="#000" stroke-width="1.6"/>
<text x="66.00" y="715.78" text-anchor="end" font-size="13" font-weight="bold" font-family="'Liberation Sans', sans-serif">4</text>
<line x1="68.10" y1="676.10" x2="75.10" y2="676.10" stroke="#000" stroke-width="1.6"/>
<text x="66.00" y="680.78" text-anchor="end" font-size="13" font-weight="bold" font-family="'Liberation Sans', sans-serif">6</text>
<line x1="68.10" y1="641.10" x2="75.10" y2="641.10" stroke="#000" stroke-width="1.6"/>
<text x="66.00" y="645.78" text-anchor="end" font-size="13" font-weight="bold" font-family="'Liberation Sans', sans-serif">8</text>
<line x1="68.10" y1="606.10" x2="75.10" y2="606.10" stroke="#000" stroke-width="1.6"/>
<text x="66.00" y="610.78" text-anchor="end" font-size="13" font-weight="bold" font-family="'Liberation Sans', sans-serif">10</text>
<line x1="101.50" y1="781.10" x2="101.50" y2="788.60" stroke="#000" stroke-width="1.6"/>
<text transform="translate(101.20,797.60) rotate(-45)" x="0" y="4.79" text-anchor="end" font-size="13.3" font-weight="bold" stroke="#000" stroke-width="0.3" font-family="'Liberation Sans', sans-serif">Ctrl</text>
<line x1="141.70" y1="781.10" x2="141.70" y2="788.60" stroke="#000" stroke-width="1.6"/>
<text transform="translate(141.40,797.60) rotate(-45)" x="0" y="4.79" text-anchor="end" font-size="13.3" font-weight="bold" stroke="#000" stroke-width="0.3" font-family="'Liberation Sans', sans-serif">RK1</text>
<line x1="181.90" y1="781.10" x2="181.90" y2="788.60" stroke="#000" stroke-width="1.6"/>
<text transform="translate(181.60,797.60) rotate(-45)" x="0" y="4.79" text-anchor="end" font-size="13.3" font-weight="bold" stroke="#000" stroke-width="0.3" font-family="'Liberation Sans', sans-serif">RK1+Fer-1</text>
<line x1="222.10" y1="781.10" x2="222.10" y2="788.60" stroke="#000" stroke-width="1.6"/>
<text transform="translate(221.80,797.60) rotate(-45)" x="0" y="4.79" text-anchor="end" font-size="13.3" font-weight="bold" stroke="#000" stroke-width="0.3" font-family="'Liberation Sans', sans-serif">RK1+Lip-1</text>
<text transform="translate(41.60,695.90) rotate(-90)" text-anchor="middle" font-size="15" font-weight="bold" font-family="'Liberation Serif', serif">MDA (nmol/mg Prot)</text>
<line x1="101.20" y1="634.20" x2="141.70" y2="634.20" stroke="#2c2c2c" stroke-width="1.3"/>
<circle cx="115.05" cy="629.10" r="1.4" fill="#000"/>
<circle cx="121.45" cy="629.10" r="1.4" fill="#000"/>
<circle cx="127.85" cy="629.10" r="1.4" fill="#000"/>
<line x1="142.00" y1="608.00" x2="222.00" y2="608.00" stroke="#2c2c2c" stroke-width="1.3"/>
<circle cx="175.60" cy="602.90" r="1.4" fill="#000"/>
<circle cx="182.00" cy="602.90" r="1.4" fill="#000"/>
<circle cx="188.40" cy="602.90" r="1.4" fill="#000"/>
<line x1="142.00" y1="624.30" x2="181.80" y2="624.30" stroke="#2c2c2c" stroke-width="1.3"/>
<circle cx="155.50" cy="619.20" r="1.4" fill="#000"/>
<circle cx="161.90" cy="619.20" r="1.4" fill="#000"/>
<circle cx="168.30" cy="619.20" r="1.4" fill="#000"/>
<text x="22.00" y="601.30" font-size="14.5" font-family="'Liberation Serif', serif">E</text>
<text x="154.20" y="864.00" text-anchor="middle" font-size="15" font-family="'Liberation Serif', serif" fill="#ff0000">HepG2</text>
<rect x="378.00" y="734.80" width="26.40" height="42.80" fill="#9c9ba0"/>
<rect x="418.20" y="655.60" width="26.40" height="122.00" fill="#ef9174"/>
<rect x="458.40" y="715.40" width="26.40" height="62.20" fill="#8f97cb"/>
<rect x="498.60" y="724.90" width="26.40" height="52.70" fill="#5db447"/>
<line x1="431.40" y1="630.40" x2="431.40" y2="655.60" stroke="#f4a085" stroke-width="1.4"/>
<line x1="425.40" y1="630.40" x2="437.40" y2="630.40" stroke="#f4a085" stroke-width="1.4"/>
<line x1="471.60" y1="708.50" x2="471.60" y2="715.40" stroke="#000" stroke-width="1.4"/>
<line x1="465.60" y1="708.50" x2="477.60" y2="708.50" stroke="#000" stroke-width="1.4"/>
<line x1="471.60" y1="715.40" x2="471.60" y2="720.90" stroke="#000" stroke-width="1.4"/>
<line x1="465.60" y1="720.90" x2="477.60" y2="720.90" stroke="#000" stroke-width="1.4"/>
<line x1="511.80" y1="719.40" x2="511.80" y2="724.90" stroke="#78c860" stroke-width="1.4"/>
<line x1="505.80" y1="719.40" x2="517.80" y2="719.40" stroke="#78c860" stroke-width="1.4"/>
<circle cx="381.40" cy="736.40" r="3.6" fill="#000"/>
<circle cx="391.00" cy="733.30" r="3.6" fill="#000"/>
<circle cx="400.90" cy="734.20" r="3.6" fill="#000"/>
<circle cx="431.40" cy="627.60" r="3.6" fill="#000"/>
<circle cx="431.40" cy="662.70" r="3.6" fill="#000"/>
<circle cx="431.40" cy="675.70" r="3.6" fill="#000"/>
<circle cx="461.60" cy="709.20" r="3.6" fill="#000"/>
<circle cx="481.60" cy="713.70" r="3.6" fill="#000"/>
<circle cx="472.00" cy="721.80" r="3.6" fill="#000"/>
<circle cx="502.00" cy="727.70" r="3.6" fill="#000"/>
<circle cx="511.60" cy="718.40" r="3.6" fill="#000"/>
<circle cx="521.50" cy="727.70" r="3.6" fill="#000"/>
<path d="M364.50,603.30 V777.60 H538.50" fill="none" stroke="#000" stroke-width="1.6"/>
<line x1="357.50" y1="777.60" x2="364.50" y2="777.60" stroke="#000" stroke-width="1.6"/>
<text x="355.40" y="782.28" text-anchor="end" font-size="13" font-weight="bold" font-family="'Liberation Sans', sans-serif">0</text>
<line x1="357.50" y1="719.50" x2="364.50" y2="719.50" stroke="#000" stroke-width="1.6"/>
<text x="355.40" y="724.18" text-anchor="end" font-size="13" font-weight="bold" font-family="'Liberation Sans', sans-serif">5</text>
<line x1="357.50" y1="661.40" x2="364.50" y2="661.40" stroke="#000" stroke-width="1.6"/>
<text x="355.40" y="666.08" text-anchor="end" font-size="13" font-weight="bold" font-family="'Liberation Sans', sans-serif">10</text>
<line x1="357.50" y1="603.30" x2="364.50" y2="603.30" stroke="#000" stroke-width="1.6"/>
<text x="355.40" y="607.98" text-anchor="end" font-size="13" font-weight="bold" font-family="'Liberation Sans', sans-serif">15</text>
<line x1="391.20" y1="777.60" x2="391.20" y2="785.10" stroke="#000" stroke-width="1.6"/>
<text transform="translate(390.90,794.10) rotate(-45)" x="0" y="4.79" text-anchor="end" font-size="13.3" font-weight="bold" stroke="#000" stroke-width="0.3" font-family="'Liberation Sans', sans-serif">Ctrl</text>
<line x1="431.40" y1="777.60" x2="431.40" y2="785.10" stroke="#000" stroke-width="1.6"/>
<text transform="translate(431.10,794.10) rotate(-45)" x="0" y="4.79" text-anchor="end" font-size="13.3" font-weight="bold" stroke="#000" stroke-width="0.3" font-family="'Liberation Sans', sans-serif">RK1</text>
<line x1="471.60" y1="777.60" x2="471.60" y2="785.10" stroke="#000" stroke-width="1.6"/>
<text transform="translate(471.30,794.10) rotate(-45)" x="0" y="4.79" text-anchor="end" font-size="13.3" font-weight="bold" stroke="#000" stroke-width="0.3" font-family="'Liberation Sans', sans-serif">RK1+Fer-1</text>
<line x1="511.80" y1="777.60" x2="511.80" y2="785.10" stroke="#000" stroke-width="1.6"/>
<text transform="translate(511.50,794.10) rotate(-45)" x="0" y="4.79" text-anchor="end" font-size="13.3" font-weight="bold" stroke="#000" stroke-width="0.3" font-family="'Liberation Sans', sans-serif">RK1+Lip-1</text>
<text transform="translate(332.20,693.90) rotate(-90)" text-anchor="middle" font-size="15" font-weight="bold" font-family="'Liberation Serif', serif">MDA (nmol/mg Prot)</text>
<line x1="391.50" y1="619.40" x2="431.70" y2="619.40" stroke="#2c2c2c" stroke-width="1.3"/>
<circle cx="405.20" cy="614.30" r="1.4" fill="#000"/>
<circle cx="411.60" cy="614.30" r="1.4" fill="#000"/>
<circle cx="418.00" cy="614.30" r="1.4" fill="#000"/>
<line x1="431.70" y1="594.80" x2="511.80" y2="594.80" stroke="#2c2c2c" stroke-width="1.3"/>
<circle cx="465.35" cy="589.70" r="1.4" fill="#000"/>
<circle cx="471.75" cy="589.70" r="1.4" fill="#000"/>
<circle cx="478.15" cy="589.70" r="1.4" fill="#000"/>
<line x1="431.70" y1="608.80" x2="471.10" y2="608.80" stroke="#2c2c2c" stroke-width="1.3"/>
<circle cx="448.20" cy="603.70" r="1.4" fill="#000"/>
<circle cx="454.60" cy="603.70" r="1.4" fill="#000"/>
<text x="307.20" y="600.00" font-size="14.5" font-family="'Liberation Serif', serif">F</text>
<text x="452.60" y="867.40" text-anchor="middle" font-size="15" font-family="'Liberation Serif', serif" fill="#1f9e28">Hep3B</text>
</svg>
</body></html>
